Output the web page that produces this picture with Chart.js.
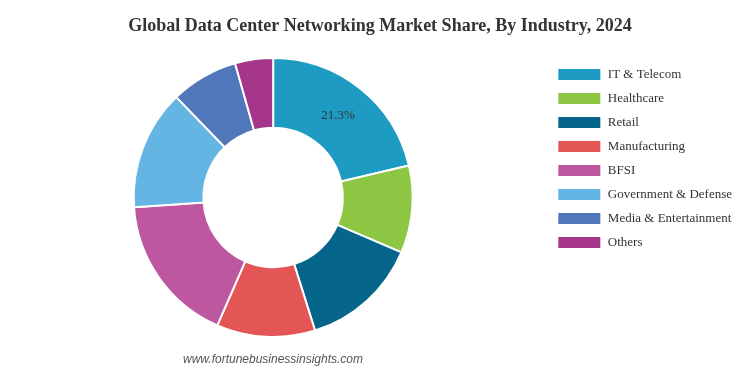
<!DOCTYPE html>
<html>
<head>
<meta charset="utf-8">
<script src="https://cdn.jsdelivr.net/npm/chart.js@4.4.1/dist/chart.umd.min.js"></script>
<style>
  body { margin: 0; background: #fff; }
  #wrap { width: 745px; height: 372px; position: relative; }
</style>
</head>
<body>
<div id="wrap"><canvas id="myChart" width="745" height="372"></canvas></div>
<script>
// data
let industries = ['IT & Telecom', 'Healthcare', 'Retail', 'Manufacturing', 'BFSI', 'Government & Defense', 'Media & Entertainment', 'Others'];
let shares = [21.3, 10.1, 13.7, 11.4, 17.3, 13.9, 7.8, 4.4];
let sliceColors = ['#1e9bc2', '#8dc642', '#06658a', '#e45655', '#bd57a0', '#64b4e4', '#4f77ba', '#a63689'];

let titleText = 'Global Data Center Networking Market Share, By Industry, 2024';
let sourceText = 'www.fortunebusinessinsights.com';

// title, source line and the one slice label
const extraText = {
  id: 'extraText',
  afterDraw(chart) {
    const ctx = chart.ctx;
    ctx.save();
    ctx.textAlign = 'center';
    ctx.textBaseline = 'middle';

    ctx.fillStyle = '#333333';
    ctx.font = 'bold 18px "Liberation Serif", serif';
    ctx.fillText(titleText, 380, 26);

    ctx.fillStyle = '#555555';
    ctx.font = 'italic 12px "Liberation Sans", Arial, sans-serif';
    ctx.fillText(sourceText, 273, 360);

    // only the biggest slice gets its label
    let arc = chart.getDatasetMeta(0).data[0];
    let pos = arc.tooltipPosition();
    ctx.fillStyle = '#333333';
    ctx.font = '13px "Liberation Serif", serif';
    ctx.fillText(shares[0] + '%', pos.x, pos.y);
    ctx.restore();
  }
};

let canvasChart = document.getElementById('myChart');
const myChart = new Chart(canvasChart, {
  type: 'doughnut',
  data: {
    labels: industries,
    datasets: [{
      data: shares,
      backgroundColor: sliceColors,
      borderColor: '#ffffff',
      borderWidth: 2
    }]
  },
  options: {
    responsive: false,
    animation: false,
    cutout: '50%',
    layout: { padding: { top: 57, bottom: 34, left: 0, right: 3 } },
    plugins: {
      title: { display: false },
      tooltip: { enabled: false },
      legend: {
        position: 'right',
        align: 'start',
        labels: {
          boxWidth: 44,
          boxHeight: 13,
          padding: 11,
          color: '#333333',
          font: { family: '"Liberation Serif", serif', size: 13 }
        }
      }
    }
  },
  plugins: [extraText]
});
</script>
</body>
</html>
